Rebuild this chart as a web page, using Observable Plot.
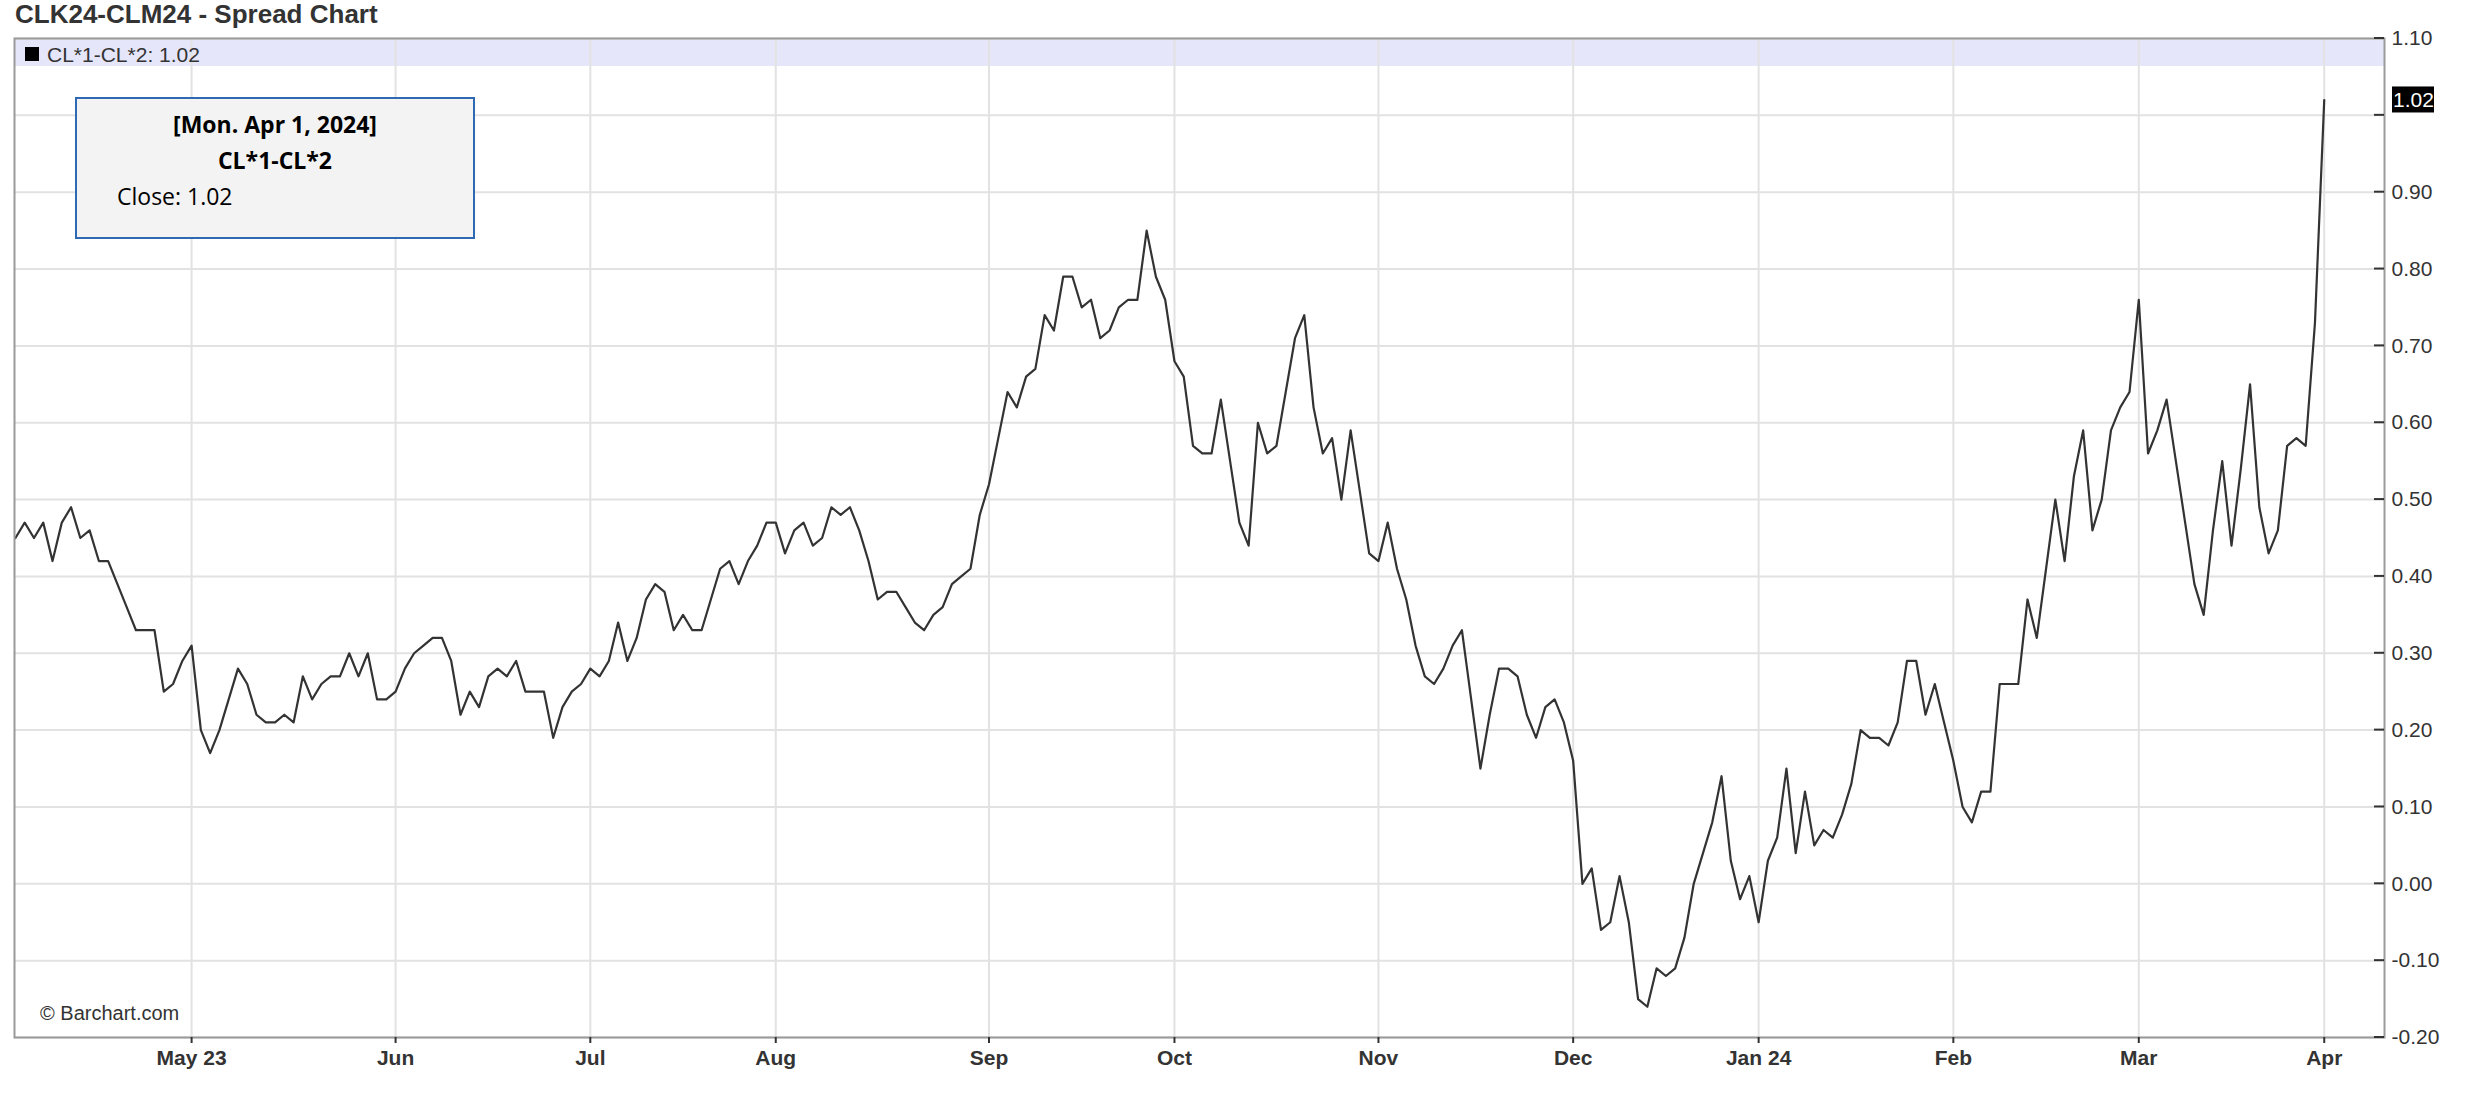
<!DOCTYPE html>
<html>
<head>
<meta charset="utf-8">
<script src="https://cdn.jsdelivr.net/npm/d3@7"></script>
<script src="https://cdn.jsdelivr.net/npm/@observablehq/plot@0.6"></script>
<style>
html, body { margin: 0; padding: 0; background: #fff; overflow: hidden; }
</style>
</head>
<body>
<div id="chart"></div>
<script>
// ---------- data ----------
const chartTitle = "CLK24-CLM24 - Spread Chart";
const seriesName = "CL*1-CL*2";
const lastDateLabel = "[Mon. Apr 1, 2024]";
const copyright = "© Barchart.com";

// daily closes of the spread, trading days Apr 3 2023 .. Apr 1 2024
const spread = [
  0.45, 0.47, 0.45, 0.47, 0.42, 0.47, 0.49, 0.45, 0.46, 0.42,
  0.42, 0.39, 0.36, 0.33, 0.33, 0.33, 0.25, 0.26, 0.29, 0.31,
  0.20, 0.17, 0.20, 0.24, 0.28, 0.26, 0.22, 0.21, 0.21, 0.22,
  0.21, 0.27, 0.24, 0.26, 0.27, 0.27, 0.30, 0.27, 0.30, 0.24,
  0.24, 0.25, 0.28, 0.30, 0.31, 0.32, 0.32, 0.29, 0.22, 0.25,
  0.23, 0.27, 0.28, 0.27, 0.29, 0.25, 0.25, 0.25, 0.19, 0.23,
  0.25, 0.26, 0.28, 0.27, 0.29, 0.34, 0.29, 0.32, 0.37, 0.39,
  0.38, 0.33, 0.35, 0.33, 0.33, 0.37, 0.41, 0.42, 0.39, 0.42,
  0.44, 0.47, 0.47, 0.43, 0.46, 0.47, 0.44, 0.45, 0.49, 0.48,
  0.49, 0.46, 0.42, 0.37, 0.38, 0.38, 0.36, 0.34, 0.33, 0.35,
  0.36, 0.39, 0.40, 0.41, 0.48, 0.52, 0.58, 0.64, 0.62, 0.66,
  0.67, 0.74, 0.72, 0.79, 0.79, 0.75, 0.76, 0.71, 0.72, 0.75,
  0.76, 0.76, 0.85, 0.79, 0.76, 0.68, 0.66, 0.57, 0.56, 0.56,
  0.63, 0.55, 0.47, 0.44, 0.60, 0.56, 0.57, 0.64, 0.71, 0.74,
  0.62, 0.56, 0.58, 0.50, 0.59, 0.51, 0.43, 0.42, 0.47, 0.41,
  0.37, 0.31, 0.27, 0.26, 0.28, 0.31, 0.33, 0.24, 0.15, 0.22,
  0.28, 0.28, 0.27, 0.22, 0.19, 0.23, 0.24, 0.21, 0.16, 0.00,
  0.02, -0.06, -0.05, 0.01, -0.05, -0.15, -0.16, -0.11, -0.12, -0.11,
  -0.07, 0.00, 0.04, 0.08, 0.14, 0.03, -0.02, 0.01, -0.05, 0.03,
  0.06, 0.15, 0.04, 0.12, 0.05, 0.07, 0.06, 0.09, 0.13, 0.20,
  0.19, 0.19, 0.18, 0.21, 0.29, 0.29, 0.22, 0.26, 0.21, 0.16,
  0.10, 0.08, 0.12, 0.12, 0.26, 0.26, 0.26, 0.37, 0.32, 0.41,
  0.50, 0.42, 0.53, 0.59, 0.46, 0.50, 0.59, 0.62, 0.64, 0.76,
  0.56, 0.59, 0.63, 0.55, 0.47, 0.39, 0.35, 0.46, 0.55, 0.44,
  0.54, 0.65, 0.49, 0.43, 0.46, 0.57, 0.58, 0.57, 0.73, 1.02
];

// trading-day number of the first session of each month, and its label
const monthTickIndex  = [19, 41, 62, 82, 105, 125, 147, 168, 188, 209, 229, 249];
const monthTickLabels = ["May 23", "Jun", "Jul", "Aug", "Sep", "Oct", "Nov", "Dec", "Jan 24", "Feb", "Mar", "Apr"];

const yTicks      = [-0.2, -0.1, 0, 0.1, 0.2, 0.3, 0.4, 0.5, 0.6, 0.7, 0.8, 0.9, 1.0, 1.1];
const yTickLabels = ["-0.20", "-0.10", "0.00", "0.10", "0.20", "0.30", "0.40", "0.50", "0.60", "0.70", "0.80", "0.90", "", "1.10"];

// ---------- chart ----------
const fmt = d3.format(".2f");
const last = spread[spread.length - 1];
const xLabel = new Map(monthTickIndex.map((t, i) => [t, monthTickLabels[i]]));
const yLabel = new Map(yTicks.map((t, i) => [t, yTickLabels[i]]));

function deco(draw) {
  return (index, scales, values, dims) => {
    const g = d3.create("svg:g").attr("text-anchor", "start");
    draw(g, scales, dims);
    return g.node();
  };
}

const legendBand = deco((g, s, d) => {
  g.append("rect")
    .attr("x", d.marginLeft).attr("y", d.marginTop)
    .attr("width", d.width - d.marginLeft - d.marginRight).attr("height", 28)
    .attr("fill", "#e6e6fa");
});

const legend = deco((g, s, d) => {
  g.append("rect")
    .attr("x", d.marginLeft + 11).attr("y", d.marginTop + 9)
    .attr("width", 14).attr("height", 14).attr("fill", "#000");
  g.append("text")
    .attr("x", d.marginLeft + 33).attr("y", d.marginTop + 24)
    .attr("font-size", 21).attr("fill", "#333")
    .text(`${seriesName}: ${fmt(last)}`);
});

const titleMark = deco((g, s, d) => {
  g.append("text")
    .attr("x", 15).attr("y", 23)
    .attr("font-size", 26).attr("font-weight", "bold").attr("fill", "#333")
    .text(chartTitle);
});

const yTickMarks = deco((g, s, d) => {
  const xr = d.width - d.marginRight;
  g.selectAll("line").data(yTicks).join("line")
    .attr("x1", xr - 10).attr("x2", xr)
    .attr("y1", v => s.y(v)).attr("y2", v => s.y(v))
    .attr("stroke", "#333").attr("stroke-width", 2);
});

const lastValue = deco((g, s, d) => {
  const y = s.y(last);
  const x0 = d.width - d.marginRight + 8;
  g.append("rect").attr("x", x0).attr("y", y - 13).attr("width", 42).attr("height", 26).attr("fill", "#000");
  g.append("text").attr("x", x0 + 1).attr("y", y).attr("dy", "0.36em")
    .attr("font-size", 21).attr("fill", "#fff").text(fmt(last));
});

const tooltip = deco((g, s, d) => {
  const x0 = d.marginLeft + 62, y0 = d.marginTop + 60, w = 398, h = 140;
  g.append("rect").attr("x", x0).attr("y", y0).attr("width", w).attr("height", h)
    .attr("fill", "#f3f3f3").attr("stroke", "#2e69b3").attr("stroke-width", 2);
  const t = g.append("g").attr("font-family", "'Open Sans', 'Noto Sans', sans-serif").attr("font-size", 23).attr("fill", "#000");
  t.append("text").attr("x", x0 + w / 2).attr("y", y0 + 35).attr("text-anchor", "middle")
    .attr("font-weight", "bold").text(lastDateLabel);
  t.append("text").attr("x", x0 + w / 2).attr("y", y0 + 71).attr("text-anchor", "middle")
    .attr("font-weight", "bold").text(seriesName);
  t.append("text").attr("x", x0 + 41).attr("y", y0 + 107).attr("text-anchor", "start")
    .text(`Close: ${fmt(last)}`);
});

const copyrightMark = deco((g, s, d) => {
  g.append("text")
    .attr("x", d.marginLeft + 26).attr("y", d.height - d.marginBottom - 17)
    .attr("font-size", 20).attr("fill", "#333").text(copyright);
});

const chart = Plot.plot({
  width: 2470,
  height: 1094,
  marginTop: 38,
  marginLeft: 14,
  marginRight: 86,
  marginBottom: 57,
  style: {
    fontFamily: "'Liberation Sans', Arial, sans-serif",
    fontSize: "21px",
    color: "#333",
    background: "#fff",
    overflow: "visible"
  },
  x: { type: "linear", domain: [-0.1, 255.5] },
  y: { domain: [-0.2, 1.1] },
  marks: [
    legendBand,
    Plot.gridX(monthTickIndex, { stroke: "#e2e2e2", strokeOpacity: 1, strokeWidth: 2 }),
    Plot.gridY(yTicks, { stroke: "#e2e2e2", strokeOpacity: 1, strokeWidth: 2 }),
    Plot.lineY(spread, { stroke: "#333", strokeWidth: 2.2 }),
    Plot.frame({ stroke: "#9a9a9a", strokeWidth: 2 }),
    Plot.axisX(monthTickIndex, {
      tickFormat: d => xLabel.get(d), tickSize: 6, tickPadding: 7,
      fontWeight: "bold", fontSize: 21, strokeWidth: 2
    }),
    Plot.axisY(yTicks, {
      anchor: "right", tickFormat: d => yLabel.get(d), tickSize: 0, tickPadding: 7, fontSize: 21
    }),
    yTickMarks,
    legend,
    titleMark,
    tooltip,
    lastValue,
    copyrightMark
  ]
});

document.getElementById("chart").appendChild(chart);
</script>
</body>
</html>
